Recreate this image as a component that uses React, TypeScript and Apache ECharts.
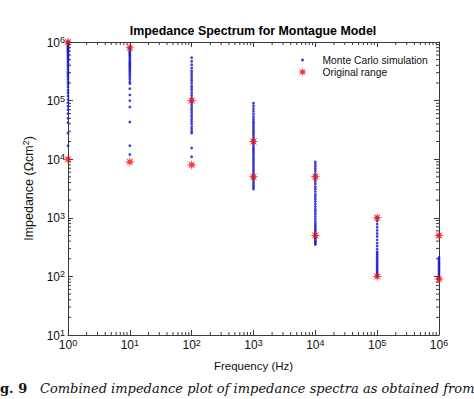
import React, { useEffect, useRef } from "react";
import * as echarts from "echarts";

// ---- data ----
const frequencies = [1, 10, 100, 1000, 10000, 100000, 1000000];

const originalHigh = [1e6, 8e5, 1e5, 2e4, 5e3, 1e3, 5e2];
const originalLow = [1e4, 9e3, 8e3, 5e3, 5e2, 1e2, 90];

const mc1Hz = [
  1.0e6, 9.7e5, 9.4e5, 9.1e5, 8.8e5, 8.5e5, 8.2e5, 7.9e5, 7.6e5, 7.3e5, 7.0e5, 6.7e5,
  6.4e5, 6.1e5, 5.8e5, 5.5e5, 5.2e5, 4.9e5, 4.6e5, 4.3e5, 4.0e5, 3.7e5, 3.4e5, 3.1e5,
  2.9e5, 2.7e5, 2.5e5, 2.3e5, 2.1e5, 1.9e5, 1.7e5, 1.5e5, 1.35e5, 1.2e5, 1.05e5, 9.2e4,
  8.0e4, 7.0e4, 6.0e4, 5.0e4, 4.2e4, 2.8e4, 1.7e4,
];
const mc10Hz = [
  8.0e5, 7.6e5, 7.2e5, 6.9e5, 6.6e5, 6.3e5, 6.0e5, 5.7e5, 5.4e5, 5.1e5, 4.8e5, 4.5e5,
  4.3e5, 4.1e5, 3.9e5, 3.7e5, 3.5e5, 3.3e5, 3.1e5, 2.9e5, 2.7e5, 2.5e5, 2.3e5, 2.1e5,
  1.95e5, 1.6e5, 1.25e5, 1.0e5, 7.8e4, 4.3e4, 1.7e4, 1.2e4,
];
const mc100Hz = [
  5.4e5, 4.7e5, 4.1e5, 3.6e5, 3.2e5, 2.9e5, 2.65e5, 2.4e5, 2.2e5, 2.0e5, 1.8e5, 1.65e5,
  1.5e5, 1.35e5, 1.22e5, 1.1e5, 1.0e5, 9.2e4, 8.4e4, 7.6e4, 7.0e4, 6.4e4, 5.8e4, 5.3e4,
  4.8e4, 4.4e4, 4.0e4, 3.6e4, 3.3e4, 3.0e4, 2.8e4, 1.55e4, 1.1e4,
];
const mc1kHz = [
  9.0e4, 8.1e4, 7.3e4, 6.6e4, 5.9e4, 5.3e4, 4.8e4, 4.4e4, 4.1e4, 3.8e4, 3.5e4, 3.25e4,
  3.0e4, 2.8e4, 2.6e4, 2.4e4, 2.2e4, 2.05e4, 1.9e4, 1.75e4, 1.6e4, 1.5e4, 1.4e4, 1.3e4,
  1.2e4, 1.1e4, 1.02e4, 9.4e3, 8.7e3, 8.0e3, 7.4e3, 6.8e3, 6.3e3, 5.8e3, 5.4e3, 5.0e3,
  4.6e3, 4.25e3, 3.9e3, 3.6e3, 3.35e3, 3.1e3,
];
const mc10kHz = [
  9.0e3, 8.2e3, 7.5e3, 6.8e3, 6.2e3, 5.6e3, 5.1e3, 4.6e3, 4.2e3, 3.8e3, 3.4e3, 3.1e3,
  2.8e3, 2.5e3, 2.3e3, 2.1e3, 1.9e3, 1.7e3, 1.55e3, 1.4e3, 1.28e3, 1.16e3, 1.05e3, 950,
  870, 800, 740, 690, 640, 600, 560, 520, 490, 460, 435, 410, 390, 370, 350,
];
const mc100kHz = [
  1000, 880, 780, 690, 610, 540, 480, 420, 370, 330, 290, 260, 245, 230, 215, 200, 188,
  176, 165, 155, 145, 136, 128, 120, 113, 106, 100,
];
const mc1MHz = [210, 198, 186, 175, 165, 155, 146, 138, 130, 122, 115, 108, 102, 96, 90];

const monteCarloByFrequency = [mc1Hz, mc10Hz, mc100Hz, mc1kHz, mc10kHz, mc100kHz, mc1MHz];

const X_MIN = 1;
const X_MAX = 1e6;
const Y_MIN = 10;
const Y_MAX = 1e6;

const STAR =
  "path://M20 10L13.9 11.6L17.07 17.07L11.6 13.9L10 20L8.4 13.9L2.93 17.07L6.1 11.6L0 10L6.1 8.4L2.93 2.93L8.4 6.1L10 0L11.6 6.1L17.07 2.93L13.9 8.4Z";

const FONT = "Arial, 'Liberation Sans', Helvetica, sans-serif";
const AXIS_COLOR = "#3a3a3a";

function powLabel(v: number) {
  const e = Math.round(Math.log10(v));
  return `{b|10}{s|${e}}`;
}

const labelRich = {
  b: { fontSize: 12, fontFamily: FONT, color: "#111", lineHeight: 13, verticalAlign: "bottom" },
  s: { fontSize: 9, fontFamily: FONT, color: "#111", lineHeight: 9, verticalAlign: "top" },
};

export default function App() {
  const ref = useRef<HTMLDivElement>(null);

  useEffect(() => {
    document.body.style.margin = "0";
    const chart = echarts.init(ref.current!, undefined, { renderer: "svg" });

    const monteCarloData = frequencies.flatMap((f, i) =>
      monteCarloByFrequency[i].map((v) => [f, v])
    );
    const originalData = frequencies.flatMap((f, i) => [
      [f, originalHigh[i]],
      [f, originalLow[i]],
    ]);

    // minor tick positions on the log axes (2..9 × 10^k)
    const minorTicks: number[][] = [];
    for (let k = 0; k < 6; k++) {
      for (let m = 2; m <= 9; m++) minorTicks.push([m * Math.pow(10, k), Y_MIN, 0]);
    }
    for (let k = 1; k < 6; k++) {
      for (let m = 2; m <= 9; m++) minorTicks.push([X_MIN, m * Math.pow(10, k), 1]);
    }

    const axisCommon = {
      type: "log",
      logBase: 10,
      axisLine: { show: true, lineStyle: { color: AXIS_COLOR, width: 1 } },
      axisTick: { show: true, inside: true, length: 5, lineStyle: { color: AXIS_COLOR } },
      splitLine: { show: false },
      minorTick: { show: false },
    };

    chart.setOption({
      animation: false,
      backgroundColor: "#ffffff",
      title: {
        text: "Impedance Spectrum for Montague Model",
        left: 253,
        textAlign: "center",
        top: 25,
        padding: 0,
        textStyle: { fontFamily: FONT, fontSize: 12.4, fontWeight: "bold", color: "#000" },
      },
      legend: [
        {
          data: ["Monte Carlo simulation"],
          left: 301,
          top: 55,
          padding: 0,
          itemWidth: 30,
          itemHeight: 3,
          textStyle: { fontFamily: FONT, fontSize: 10.3, color: "#111" },
        },
        {
          data: ["Original range"],
          left: 298,
          top: 67,
          padding: 0,
          itemWidth: 30,
          itemHeight: 9,
          textStyle: { fontFamily: FONT, fontSize: 10.3, color: "#111" },
        },
      ],
      grid: { left: 68, right: 35, top: 42, bottom: 64, containLabel: false },
      xAxis: [
        {
          ...axisCommon,
          position: "bottom",
          min: X_MIN,
          max: X_MAX,
          name: "Frequency (Hz)",
          nameLocation: "middle",
          nameGap: 25,
          nameTextStyle: { fontFamily: FONT, fontSize: 11.5, color: "#111" },
          axisLabel: {
            formatter: (v: number) => powLabel(v),
            rich: labelRich,
            margin: 3,
            showMinLabel: true,
            showMaxLabel: true,
          },
        },
        {
          ...axisCommon,
          position: "top",
          min: X_MIN,
          max: X_MAX,
          axisLabel: { show: false },
        },
      ],
      yAxis: [
        {
          ...axisCommon,
          position: "left",
          min: Y_MIN,
          max: Y_MAX,
          name: "{a|Impedance (Ωcm}{s|2}{a|)}",
          nameLocation: "middle",
          nameGap: 27,
          nameTextStyle: {
            rich: {
              a: { fontFamily: FONT, fontSize: 12.5, color: "#111", lineHeight: 14, verticalAlign: "bottom" },
              s: { fontFamily: FONT, fontSize: 9, color: "#111", lineHeight: 9, verticalAlign: "top" },
            },
          },
          axisLabel: {
            formatter: (v: number) => powLabel(v),
            rich: labelRich,
            margin: 3,
            showMinLabel: true,
            showMaxLabel: true,
          },
        },
        {
          ...axisCommon,
          position: "right",
          min: Y_MIN,
          max: Y_MAX,
          axisLabel: { show: false },
        },
      ],
      series: [
        {
          type: "custom",
          name: "minorTicks",
          xAxisIndex: 0,
          yAxisIndex: 0,
          silent: true,
          clip: false,
          encode: { x: 0, y: 1 },
          data: minorTicks,
          renderItem: (params: any, api: any) => {
            const kind = api.value(2);
            const style = { stroke: AXIS_COLOR, lineWidth: 1 };
            if (kind === 0) {
              const v = api.value(0);
              const b = api.coord([v, Y_MIN]);
              const t = api.coord([v, Y_MAX]);
              return {
                type: "group",
                children: [
                  { type: "line", shape: { x1: b[0], y1: b[1], x2: b[0], y2: b[1] - 3 }, style },
                  { type: "line", shape: { x1: t[0], y1: t[1], x2: t[0], y2: t[1] + 3 }, style },
                ],
              };
            }
            const v = api.value(1);
            const l = api.coord([X_MIN, v]);
            const r = api.coord([X_MAX, v]);
            return {
              type: "group",
              children: [
                { type: "line", shape: { x1: l[0], y1: l[1], x2: l[0] + 3, y2: l[1] }, style },
                { type: "line", shape: { x1: r[0], y1: r[1], x2: r[0] - 3, y2: r[1] }, style },
              ],
            };
          },
        },
        {
          type: "scatter",
          name: "Monte Carlo simulation",
          xAxisIndex: 0,
          yAxisIndex: 0,
          symbol: "circle",
          symbolSize: 2.8,
          clip: false,
          itemStyle: { color: "#1414c8" },
          data: monteCarloData,
          z: 3,
        },
        {
          type: "scatter",
          name: "Original range",
          xAxisIndex: 0,
          yAxisIndex: 0,
          symbol: STAR,
          symbolSize: 10,
          clip: false,
          itemStyle: { color: "#ee1111" },
          data: originalData,
          z: 4,
        },
      ],
      graphic: [
        {
          type: "text",
          left: 0,
          top: 382,
          style: {
            text: "g. 9",
            font: "bold 13px 'DejaVu Serif', serif",
            fill: "#111",
          },
        },
        {
          type: "text",
          left: 40,
          top: 382,
          style: {
            text: "Combined impedance plot of impedance spectra as obtained from",
            font: "italic 13px 'DejaVu Serif', serif",
            fill: "#111",
          },
        },
      ],
    });

    return () => chart.dispose();
  }, []);

  return (
    <div
      ref={ref}
      style={{ position: "fixed", left: 0, top: 0, width: 474, height: 399, background: "#fff" }}
    />
  );
}
